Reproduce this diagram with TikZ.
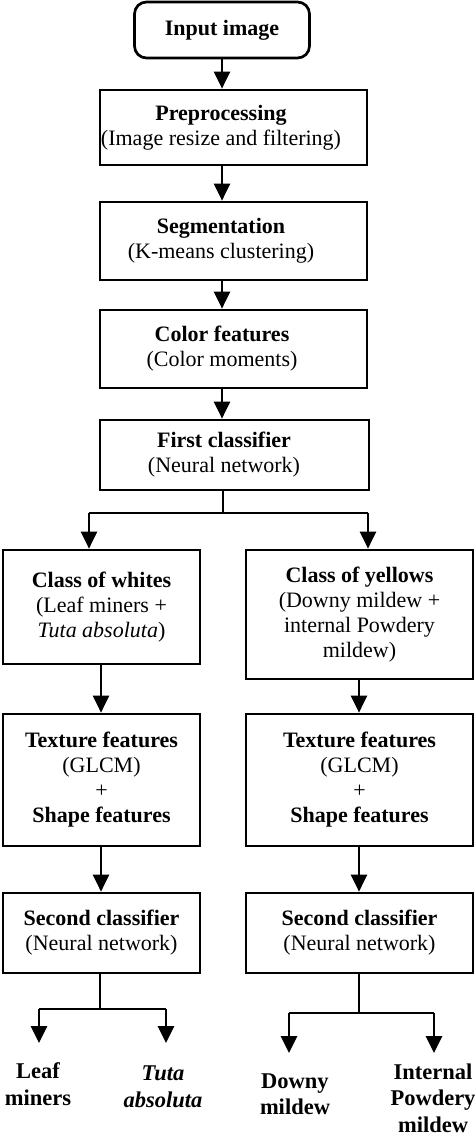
\documentclass[tikz,border=0pt]{standalone}
\usepackage{fontspec}
\setmainfont{Liberation Serif}
\usetikzlibrary{arrows.meta}
\begin{document}
\begin{tikzpicture}[x=1pt,y=-1pt,
  every node/.style={font=\fontsize{22}{25}\selectfont},
  box/.style={draw,line width=2.7pt,align=center,inner sep=0pt},
  txt/.style={align=center,inner sep=0pt},
  lbl/.style={align=center,font=\fontsize{22.5}{26.5}\selectfont\bfseries},
  arr/.style={line width=2.7pt,-{Triangle[length=17pt,width=16pt]}},
  ln/.style={line width=2.7pt}]
\useasboundingbox (0,0) rectangle (474,1135);
\node[box,rounded corners=12pt,minimum width=175pt,minimum height=56pt] (input) at (222,30) {\textbf{Input image}};
\node[box,minimum width=267pt,minimum height=75pt] (pre) at (233.5,127.5) {};
\node[txt] (pret) at (221,127.5) {\textbf{Preprocessing}\\(Image resize and filtering)};
\node[box,minimum width=267pt,minimum height=78pt] (seg) at (233.5,241) {};
\node[txt] (segt) at (221,241) {\textbf{Segmentation}\\(K-means clustering)};
\node[box,minimum width=267pt,minimum height=78pt] (col) at (233.5,349) {};
\node[txt] (colt) at (222,349) {\textbf{Color features}\\(Color moments)};
\node[box,minimum width=269pt,minimum height=70pt] (fc) at (234.5,455) {};
\node[txt] (fct) at (224,455) {\textbf{First classifier}\\(Neural network)};
\node[box,minimum width=197pt,minimum height=114pt] (cw) at (101.5,607) {\textbf{Class of whites}\\(Leaf miners +\\\textit{Tuta absoluta})};
\node[box,minimum width=227pt,minimum height=129pt] (cy) at (359.5,614.5) {\textbf{Class of yellows}\\(Downy mildew +\\internal Powdery\\mildew)};
\node[box,minimum width=197pt,minimum height=132pt] (tl) at (101.5,780) {\textbf{Texture features}\\(GLCM)\\+\\\textbf{Shape features}};
\node[box,minimum width=227pt,minimum height=132pt] (tr) at (359.5,780) {\textbf{Texture features}\\(GLCM)\\+\\\textbf{Shape features}};
\node[box,minimum width=197pt,minimum height=80pt] (sl) at (101.5,933) {\textbf{Second classifier}\\(Neural network)};
\node[box,minimum width=227pt,minimum height=80pt] (sr) at (359.5,933) {\textbf{Second classifier}\\(Neural network)};
\node[lbl] (leaf) at (38,1084) {Leaf\\miners};
\node[lbl] (tuta) at (163,1087) {\textit{Tuta}\\\textit{absoluta}};
\node[lbl] (downy) at (295,1094) {Downy\\mildew};
\node[lbl] (ipm) at (433,1098) {Internal\\Powdery\\mildew};
% main column
\draw[arr] (input.south) -- (input.south |- pre.north);
\draw[arr] (pre.south -| input) -- (seg.north -| input);
\draw[arr] (seg.south -| input) -- (col.north -| input);
\draw[arr] (col.south -| input) -- (fc.north -| input);
% first split
\coordinate (j1) at (223,513);
\coordinate (j1l) at (89,513);
\coordinate (j1r) at (368,513);
\draw[ln] (fc.south -| j1) -- (j1);
\draw[ln] (j1l) -- (j1r);
\draw[arr] (j1l) -- (j1l |- cw.north);
\draw[arr] (j1r) -- (j1r |- cy.north);
% left column
\draw[arr] (cw.south -| 101,0) -- (tl.north -| 101,0);
\draw[arr] (tl.south -| 101,0) -- (sl.north -| 101,0);
% right column
\draw[arr] (cy.south -| 359,0) -- (tr.north -| 359,0);
\draw[arr] (tr.south -| 359,0) -- (sr.north -| 359,0);
% left split
\coordinate (j2) at (100,1009);
\coordinate (j2l) at (39,1009);
\coordinate (j2r) at (166,1009);
\draw[ln] (sl.south -| j2) -- (j2);
\draw[ln] (j2l) -- (j2r);
\draw[arr] (j2l) -- (39,1043);
\draw[arr] (j2r) -- (166,1043);
% right split
\coordinate (j3) at (359,1013);
\coordinate (j3l) at (289,1013);
\coordinate (j3r) at (434,1013);
\draw[ln] (sr.south -| j3) -- (j3);
\draw[ln] (j3l) -- (j3r);
\draw[arr] (j3l) -- (289,1053);
\draw[arr] (j3r) -- (434,1053);
\end{tikzpicture}
\end{document}
